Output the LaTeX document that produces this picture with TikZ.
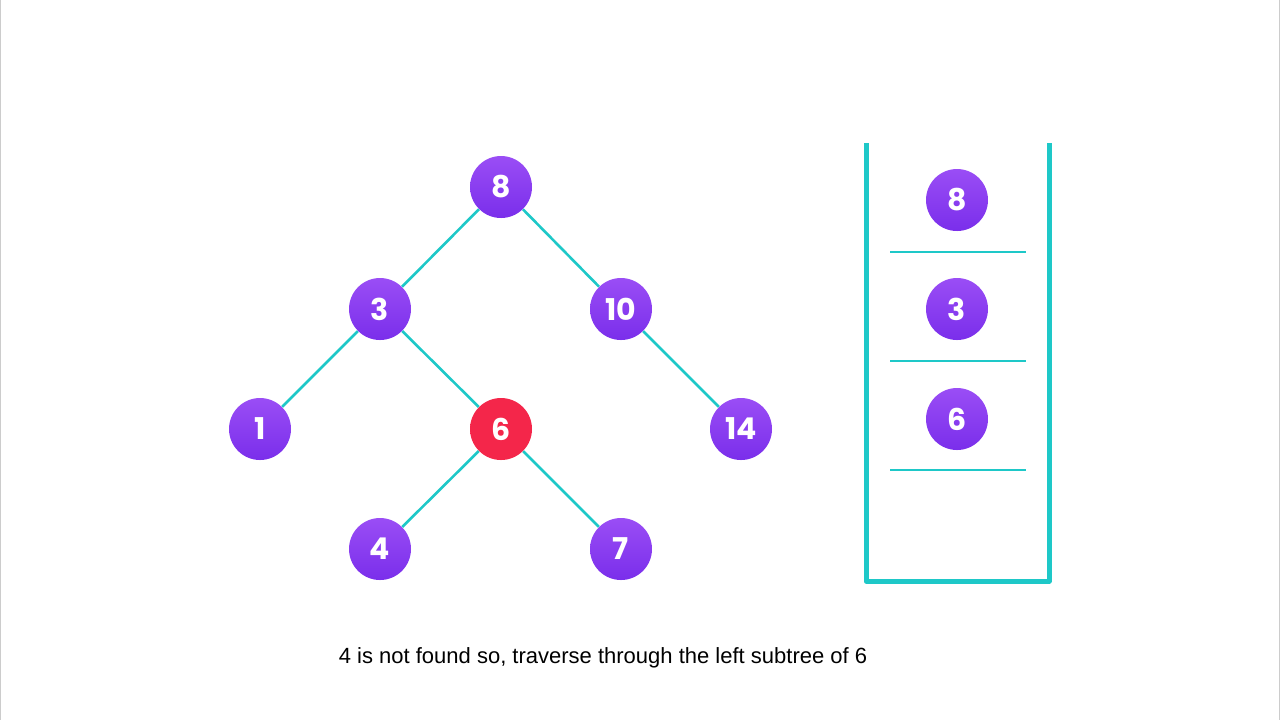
\documentclass[tikz,border=0pt]{standalone}
\usepackage{fontspec}
\setmainfont{Liberation Sans}
\newfontfamily\numfont{Poppins}
\definecolor{pur}{HTML}{7A2EEB}
\definecolor{purl}{HTML}{9A4DF5}
\definecolor{redn}{HTML}{F4264A}
\definecolor{teal}{HTML}{1EC8C8}
\begin{document}
\begin{tikzpicture}[x=0.5pt,y=-0.5pt,
  nd/.style={circle,minimum size=31pt,inner sep=0pt,top color=purl,bottom color=pur,text=white,font=\numfont\bfseries\fontsize{15}{15}\selectfont},
  rednd/.style={nd,top color=redn,bottom color=redn},
  edge/.style={teal,line width=1.3pt}]
\useasboundingbox (0,0) rectangle (1280,720);
\draw[gray!40,line width=0.5pt] (0.5,0) -- (0.5,720) (1279.5,0) -- (1279.5,720);
\node[nd] (n8) at (501,187) {8};
\node[nd] (n3) at (380,309) {3};
\node[nd] (n10) at (621,309) {10};
\node[nd] (n1) at (260,429) {1};
\node[rednd] (n6) at (501,429) {6};
\node[nd] (n14) at (741,429) {14};
\node[nd] (n4) at (380,549) {4};
\node[nd] (n7) at (621,549) {7};
\begin{scope}[on background layer/.style={}]
\end{scope}
\draw[edge] (n8) -- (n3) (n8) -- (n10) (n3) -- (n1) (n3) -- (n6) (n10) -- (n14) (n6) -- (n4) (n6) -- (n7);
\draw[teal,line width=2.5pt,line join=round] (866,143) -- (866,581) -- (1049,581) -- (1049,143);
\draw[edge] (890,252) -- (1026,252) (890,361) -- (1026,361) (890,470) -- (1026,470);
\node[nd] (s8) at (957,200) {8};
\node[nd] (s3) at (957,309) {3};
\node[nd] (s6) at (957,419) {6};
\node[font=\fontsize{11}{13}\selectfont] (cap) at (603,658) {4 is not found so, traverse through the left subtree of 6};
\end{tikzpicture}
\end{document}
